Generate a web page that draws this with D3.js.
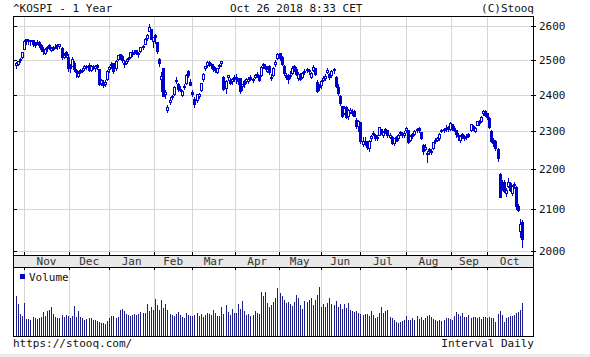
<!DOCTYPE html>
<html><head><meta charset="utf-8">
<script src="https://cdn.jsdelivr.net/npm/d3@7"></script>
<style>body{margin:0;background:#fff}svg{display:block}text{font-family:'DejaVu Sans Mono',monospace;font-size:11px}</style>
</head><body>
<svg id="c" width="590" height="357"></svg>
<script>
// ---- data ----
const startDate = "2017-10-26", endDate = "2018-10-26";
const holidays = ["2017-12-25","2017-12-29","2018-01-01","2018-02-15","2018-02-16","2018-03-01","2018-05-01","2018-05-07","2018-05-22","2018-06-06","2018-06-13","2018-08-15","2018-09-24","2018-09-25","2018-09-26","2018-10-03","2018-10-09"];
const monthLabels = ["Nov","Dec","Jan","Feb","Mar","Apr","May","Jun","Jul","Aug","Sep","Oct"];
const priceTicks = [2000,2100,2200,2300,2400,2500,2600];
const openP = [2483,2488,2502,2509,
2532,2561,2559,2557,2557,2543,2550,2552,2543,2531,2520,2534,2542,2529,2537,2538,2542,2540,2534,2509,2521,2508,
2483,2482,2490,2469,2452,2471,2467,2475,2478,2485,2470,2480,2477,2484,2472,2434,2435,2431,2443,
2474,2484,2489,2475,2503,2516,2511,2491,2490,2504,2507,2523,2518,2528,2517,2525,2539,2547,2563,2586,2590,2554,
2572,2551,2502,2443,2475,2402,2356,2380,2396,2402,2437,2430,2415,2399,2420,2433,2467,2436,
2408,2388,2385,2397,2414,2444,2476,2483,2493,2487,2481,2475,2464,2481,2490,2449,2418,2450,2441,2437,2451,
2451,2438,2446,2424,2438,2437,2438,2450,2440,2451,2457,2453,2455,2486,2482,2468,2480,2451,2456,2486,2506,
2519,2508,2480,2455,2452,2455,2462,2480,2474,2448,2458,2450,2468,2472,2470,2450,2469,2475,2436,2420,
2428,2442,2446,2463,2459,2455,2472,2450,2421,2396,2367,2350,2365,2340,2352,2355,2353,2330,2314,
2324,2266,2272,2268,2254,2280,2293,2289,2285,2290,2305,2290,2306,2302,2285,2285,2269,2284,2280,2296,2292,2290,
2303,2302,2276,2291,2293,2305,2308,2296,2263,2253,2241,2251,2245,2255,2277,2275,2281,2302,2306,2306,2310,2305,
2318,2309,2302,2290,2276,2293,2287,2283,2291,2302,2314,2300,2317,2327,2328,2350,2355,
2348,2335,2300,2277,2272,2253,2187,2160,2167,2139,2158,2165,2140,2162,2155,2106,2046,2069];
const highP = [2493,2497,2505,2523,
2558,2561,2560,2559,2558,2553,2557,2554,2547,2536,2535,2540,2545,2537,2540,2545,2546,2547,2536,2520,2526,2515,
2488,2509,2495,2473,2466,2474,2475,2483,2484,2490,2484,2484,2483,2487,2474,2443,2440,2440,2469,
2481,2493,2490,2498,2513,2516,2513,2498,2501,2508,2522,2527,2528,2529,2523,2538,2542,2564,2577,2607,2591,2567,
2575,2553,2505,2465,2476,2414,2370,2392,2400,2423,2450,2434,2425,2413,2431,2457,2469,2445,
2413,2392,2402,2405,2434,2460,2482,2495,2497,2489,2488,2478,2477,2488,2497,2452,2440,2456,2447,2448,2454,
2457,2446,2447,2431,2442,2447,2449,2455,2448,2458,2463,2456,2480,2490,2487,2480,2485,2458,2478,2499,2519,
2520,2510,2484,2462,2458,2466,2481,2485,2478,2465,2461,2463,2473,2477,2474,2464,2483,2477,2441,2430,
2440,2453,2458,2475,2461,2469,2475,2452,2430,2400,2369,2369,2367,2359,2362,2360,2358,2335,2330,
2325,2283,2283,2274,2275,2288,2299,2291,2288,2312,2306,2300,2307,2303,2294,2286,2282,2287,2292,2299,2297,2300,
2310,2303,2290,2294,2303,2309,2310,2296,2266,2265,2247,2256,2253,2271,2280,2284,2295,2306,2308,2316,2313,2323,
2319,2314,2304,2295,2290,2295,2290,2291,2294,2320,2316,2311,2328,2330,2342,2358,2357,
2350,2339,2303,2282,2276,2255,2191,2173,2171,2152,2177,2168,2160,2168,2157,2112,2075,2072];
const lowP = [2477,2484,2493,2505,
2530,2547,2546,2542,2539,2537,2546,2536,2525,2515,2517,2526,2530,2524,2527,2533,2532,2535,2502,2505,2508,2468,
2465,2481,2466,2451,2449,2460,2464,2470,2473,2468,2468,2472,2467,2472,2428,2426,2420,2423,2442,
2465,2477,2460,2469,2499,2501,2492,2478,2487,2497,2504,2511,2515,2515,2508,2523,2530,2545,2559,2584,2562,2538,
2548,2520,2480,2410,2396,2390,2352,2374,2387,2399,2434,2409,2410,2397,2416,2431,2451,2426,
2396,2365,2380,2390,2410,2439,2470,2479,2481,2476,2468,2464,2460,2475,2480,2413,2405,2440,2429,2430,2439,
2434,2430,2405,2414,2421,2432,2432,2440,2436,2447,2449,2438,2453,2477,2472,2464,2459,2441,2453,2482,2501,
2500,2484,2455,2444,2433,2448,2459,2468,2455,2442,2440,2446,2459,2465,2458,2446,2466,2454,2406,2414,
2419,2438,2442,2461,2445,2450,2462,2420,2400,2372,2338,2345,2336,2332,2350,2343,2340,2308,2300,
2267,2260,2262,2252,2247,2274,2288,2276,2276,2289,2293,2285,2295,2283,2280,2266,2263,2272,2277,2288,2285,2284,
2296,2269,2273,2282,2290,2297,2298,2278,2240,2249,2218,2240,2238,2253,2267,2272,2277,2296,2296,2300,2300,2302,
2302,2300,2285,2276,2270,2280,2275,2278,2283,2300,2302,2298,2315,2317,2325,2343,2340,
2333,2308,2270,2261,2249,2222,2129,2148,2143,2132,2155,2144,2134,2153,2100,2094,2033,2009];
const closeP = [2490,2497,2502,2523,
2556,2558,2557,2555,2545,2546,2552,2542,2530,2526,2532,2537,2533,2533,2531,2537,2539,2545,2507,2514,2512,2476,
2475,2501,2474,2464,2461,2464,2471,2480,2480,2469,2482,2478,2482,2478,2429,2440,2427,2436,2467,
2479,2486,2466,2497,2513,2510,2499,2488,2496,2503,2521,2515,2522,2520,2520,2537,2538,2562,2574,2598,2562,2566,
2568,2525,2491,2453,2396,2407,2364,2385,2395,2421,2442,2415,2415,2409,2425,2456,2454,2427,
2402,2375,2401,2402,2433,2459,2480,2494,2486,2484,2474,2471,2475,2484,2496,2416,2437,2455,2434,2445,2445,
2443,2442,2409,2429,2429,2444,2444,2445,2443,2455,2455,2442,2479,2486,2476,2474,2465,2448,2475,2492,2515,
2505,2487,2461,2449,2443,2454,2477,2476,2458,2459,2444,2460,2468,2471,2466,2460,2478,2457,2409,2423,
2438,2447,2453,2470,2451,2468,2470,2423,2404,2376,2340,2363,2337,2357,2357,2350,2342,2314,2326,
2272,2273,2266,2258,2273,2286,2294,2281,2283,2311,2296,2298,2301,2288,2289,2269,2280,2273,2289,2295,2293,2295,
2307,2270,2287,2287,2301,2303,2303,2282,2248,2258,2241,2247,2248,2270,2273,2280,2293,2300,2303,2309,2307,2322,
2307,2304,2291,2286,2287,2281,2282,2286,2287,2318,2303,2308,2326,2322,2339,2355,2343,
2339,2310,2274,2268,2254,2229,2130,2162,2145,2146,2168,2148,2156,2162,2106,2098,2063,2027];
const volume = [730,590,400,370,
600,310,310,290,350,330,310,330,350,440,370,460,480,530,400,350,330,330,385,350,385,370,
330,360,550,340,460,350,330,300,310,330,320,290,300,280,250,240,230,220,270,
330,370,370,330,350,480,500,460,400,380,370,380,400,390,400,440,420,410,590,450,520,470,
680,560,480,650,510,590,470,400,380,360,400,430,380,350,330,420,380,360,
370,390,420,360,400,350,380,420,400,380,470,420,370,360,520,400,570,440,380,500,420,
420,590,500,640,460,380,400,370,390,450,420,400,800,720,800,600,520,560,620,700,880,
780,720,650,600,620,580,540,620,750,700,560,500,640,610,660,700,560,660,750,900,
520,580,530,600,700,590,560,640,520,580,490,580,510,600,470,460,440,450,420,
400,380,400,400,370,460,390,320,350,420,530,410,460,470,350,330,290,260,240,260,280,300,
370,300,290,320,290,370,310,340,290,330,370,390,340,310,300,280,290,270,300,320,330,310,
300,370,430,400,370,410,340,340,390,330,350,340,330,350,310,340,350,
330,340,320,330,250,400,460,380,250,330,350,370,360,390,410,440,480,600];

// ---- trading calendar ----
const fmt = d3.utcFormat("%Y-%m-%d");
const hol = new Set(holidays);
const dates = d3.utcDays(new Date(startDate+"T00:00:00Z"), d3.utcDay.offset(new Date(endDate+"T00:00:00Z"),1))
  .filter(d => d.getUTCDay()!==0 && d.getUTCDay()!==6 && !hol.has(fmt(d)));
const n = Math.min(dates.length, closeP.length);
const data = d3.range(n).map(i => ({i, date:dates[i], o:openP[i], h:highP[i], l:lowP[i], c:closeP[i], v:volume[i]}));

// ---- layout ----
const L=13, R=533, T=16, PB=255, VT=267, VB=336;
const BLUE="#0000cc", GRID="#d6d6d6";
const svg = d3.select("#c");
const x = d3.scaleLinear().domain([-1.4, 249.1]).range([L, R]);
const y = d3.scaleLog().domain([2000, 2600]).range([250.7, 26]);
const yv = d3.scaleLinear().domain([0, 1000]).range([336, 281]);
const px = v => Math.round(v) + 0.5;

svg.append("rect").attr("x",0).attr("y",354).attr("width",590).attr("height",3).attr("fill","#ebebeb");

// month starts
const monthStarts = [];
data.forEach((d,k) => { if (k>0 && d.date.getUTCMonth() !== data[k-1].date.getUTCMonth()) monthStarts.push(k); });

// band
svg.append("rect").attr("x",L).attr("y",PB).attr("width",R-L).attr("height",VT-PB).attr("fill","#e8e8e8");

// grid
const g = svg.append("g").attr("stroke",GRID).attr("stroke-width",1).attr("shape-rendering","crispEdges");
priceTicks.forEach(t => g.append("line").attr("x1",L).attr("x2",R).attr("y1",px(y(t))).attr("y2",px(y(t))));
monthStarts.forEach(k => {
  const xx = px(x(k)-0.5);
  g.append("line").attr("x1",xx).attr("x2",xx).attr("y1",T).attr("y2",PB);
  g.append("line").attr("x1",xx).attr("x2",xx).attr("y1",VT).attr("y2",VB);
});

// volume bars
svg.append("g").attr("shape-rendering","crispEdges").selectAll("rect").data(data).join("rect")
  .attr("x", d => Math.round(x(d.i))).attr("width",1)
  .attr("y", d => Math.round(yv(d.v))).attr("height", d => Math.round(yv(0)) - Math.round(yv(d.v)))
  .attr("fill","#1c1c8a");

// candles
const cg = svg.append("g").attr("shape-rendering","crispEdges");
data.forEach(d => {
  const cx = Math.round(x(d.i));
  const hi = Math.max(d.h, d.o, d.c), lo = Math.min(d.l, d.o, d.c);
  cg.append("line").attr("x1",cx+0.5).attr("x2",cx+0.5).attr("y1",Math.round(y(hi))).attr("y2",Math.round(y(lo))+1)
    .attr("stroke",BLUE).attr("stroke-width",1);
  const top = y(Math.max(d.o,d.c)), bot = y(Math.min(d.o,d.c));
  cg.append("rect").attr("x",cx-0.5).attr("width",2)
    .attr("y",Math.round(top)+0.5).attr("height",Math.max(1,Math.round(bot)-Math.round(top)))
    .attr("fill", d.c>=d.o ? "#fff" : BLUE).attr("stroke",BLUE).attr("stroke-width",1);
});

// frame
const f = svg.append("g").attr("stroke","#000").attr("stroke-width",1).attr("shape-rendering","crispEdges");
f.append("line").attr("x1",L).attr("x2",R+1).attr("y1",T+0.5).attr("y2",T+0.5);
f.append("line").attr("x1",L+0.5).attr("x2",L+0.5).attr("y1",T).attr("y2",VB+1);
f.append("line").attr("x1",R+0.5).attr("x2",R+0.5).attr("y1",T).attr("y2",VB+1);
f.append("line").attr("x1",L).attr("x2",R+1).attr("y1",PB+0.5).attr("y2",PB+0.5);
f.append("line").attr("x1",L).attr("x2",R+1).attr("y1",VT+0.5).attr("y2",VT+0.5);
f.append("line").attr("x1",L).attr("x2",R+1).attr("y1",VB+0.5).attr("y2",VB+0.5);
priceTicks.forEach(t => {
  f.append("line").attr("x1",L).attr("x2",L+4).attr("y1",px(y(t))).attr("y2",px(y(t)));
});
monthStarts.forEach(k => {
  const xx = px(x(k)-0.5);
  f.append("line").attr("x1",xx).attr("x2",xx).attr("y1",PB-3).attr("y2",PB);
  f.append("line").attr("x1",xx).attr("x2",xx).attr("y1",VT).attr("y2",VT+3);
});

// right axis
const ax = svg.append("g").attr("transform",`translate(${R-2},0)`)
  .call(d3.axisRight(y).tickValues(priceTicks).tickFormat(d3.format("d")).tickSizeInner(5).tickSizeOuter(0).tickPadding(3));
ax.select(".domain").remove();
ax.selectAll("line").attr("stroke","#000").attr("shape-rendering","crispEdges");
ax.selectAll("text").attr("fill","#111").style("font-family","'DejaVu Sans Mono',monospace").style("font-size","11px");

// month labels
const bounds = monthStarts.map(k => x(k)-0.5).concat([R]);
monthLabels.forEach((m,j) => {
  if (j+1 >= bounds.length) return;
  svg.append("text").attr("x",(bounds[j]+bounds[j+1])/2).attr("y",265).attr("text-anchor","middle")
    .attr("fill","#333").text(m);
});

// legend
svg.append("rect").attr("x",20).attr("y",274).attr("width",5).attr("height",5).attr("fill",BLUE);
svg.append("text").attr("x",29).attr("y",281).attr("fill","#111").text("Volume");

// titles
svg.append("text").attr("x",13).attr("y",12).attr("fill","#111").text("^KOSPI - 1 Year");
svg.append("text").attr("x",230).attr("y",12).attr("fill","#111").text("Oct 26 2018 8:33 CET");
svg.append("text").attr("x",534).attr("y",12).attr("text-anchor","end").attr("fill","#111").text("(C)Stooq");
svg.append("text").attr("x",13).attr("y",347).attr("fill","#111").text("https://stooq.com/");
svg.append("text").attr("x",534).attr("y",347).attr("text-anchor","end").attr("fill","#111").text("Interval Daily");
</script>
</body></html>
